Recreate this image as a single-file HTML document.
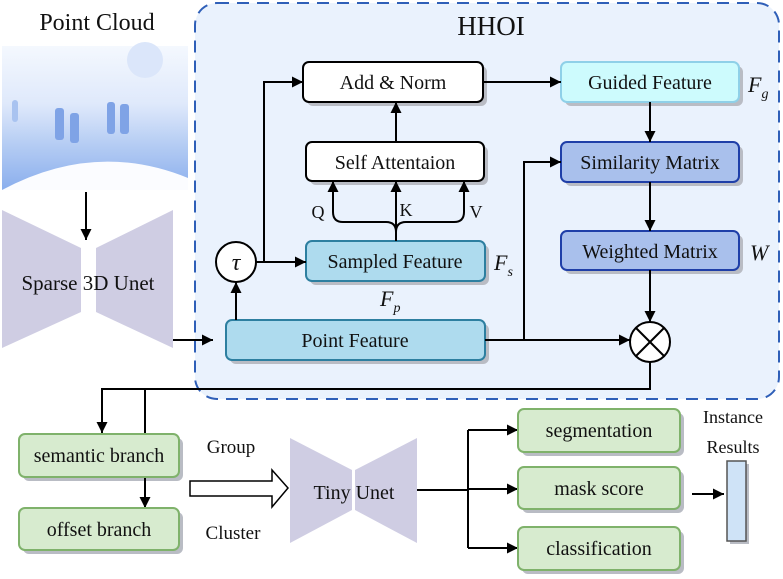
<!DOCTYPE html>
<html><head><meta charset="utf-8"><style>
html,body{margin:0;padding:0;background:#fff;}
svg{display:block;}
svg text{font-family:"Liberation Serif","DejaVu Serif",serif;fill:#111;}
</style></head><body>
<svg width="783" height="579" viewBox="0 0 783 579" xmlns="http://www.w3.org/2000/svg" font-family="Liberation Serif, DejaVu Serif, serif">
<defs>
<marker id="a" viewBox="0 0 10 10" refX="10" refY="5" markerWidth="13" markerHeight="11" markerUnits="userSpaceOnUse" orient="auto"><path d="M0,0 L10,5 L0,10 z" fill="#000"/></marker>
<linearGradient id="pc" x1="0" y1="0" x2="0" y2="1">
<stop offset="0" stop-color="#f4f8fe"/><stop offset="0.4" stop-color="#dfe9fb"/><stop offset="0.7" stop-color="#b3cbf3"/><stop offset="1" stop-color="#8aaeed"/></linearGradient>
</defs>
<rect x="195" y="3" width="584" height="396" rx="22" fill="#eaf2fd" stroke="#2f5fb8" stroke-width="2" stroke-dasharray="12,8"/>
<text x="491" y="35" font-size="27" text-anchor="middle">HHOI</text>
<text x="97" y="30" font-size="24" text-anchor="middle">Point Cloud</text>
<rect x="2" y="46" width="186" height="144" fill="url(#pc)"/>
<path d="M2,190 Q95,140 188,178 L188,190 Z" fill="#fbfcff"/>
<g fill="#7fa3e6">
<rect x="55" y="108" width="9" height="32" rx="3"/><rect x="70" y="113" width="9" height="30" rx="3"/><rect x="107" y="102" width="8" height="32" rx="3"/><rect x="120" y="104" width="9" height="30" rx="3"/><rect x="12" y="100" width="6" height="22" rx="3" fill="#a9c3f0"/>
<circle cx="145" cy="60" r="18" fill="#dbe6fa"/>
</g>
<polygon points="2,210 81,248 81,312 2,348" fill="#cfcde3"/>
<polygon points="96,248 173,210 173,348 96,312" fill="#cfcde3"/>
<text x="88" y="290" font-size="21" text-anchor="middle">Sparse 3D Unet</text>
<line x1="86" y1="192" x2="86" y2="240" stroke="#000" stroke-width="2" marker-end="url(#a)"/>
<line x1="173" y1="340" x2="213" y2="340" stroke="#000" stroke-width="2" marker-end="url(#a)"/>
<g fill="#b9bcc4">
<rect x="307" y="66" width="180" height="40" rx="6"/><rect x="310" y="146" width="178" height="39" rx="6"/><rect x="310" y="245" width="179" height="40" rx="6"/><rect x="230" y="324" width="259" height="40" rx="6"/><rect x="565" y="66" width="178" height="40" rx="6"/><rect x="565" y="146" width="178" height="40" rx="6"/><rect x="565" y="235" width="178" height="39" rx="6"/>
<rect x="23" y="438" width="160" height="43" rx="6"/><rect x="23" y="512" width="160" height="42" rx="6"/><rect x="522" y="413" width="162" height="43" rx="6"/><rect x="522" y="471" width="162" height="42" rx="6"/><rect x="522" y="531" width="162" height="43" rx="6"/><rect x="730" y="464" width="19" height="80"/>
</g>
<rect x="303" y="62" width="180" height="40" rx="6" fill="#fff" stroke="#000" stroke-width="2"/>
<text x="393" y="89" font-size="20" text-anchor="middle">Add &amp; Norm</text>
<rect x="306" y="142" width="178" height="39" rx="6" fill="#fff" stroke="#000" stroke-width="2"/>
<text x="395" y="169" font-size="20" text-anchor="middle">Self Attentaion</text>
<rect x="306" y="241" width="179" height="40" rx="6" fill="#aedbee" stroke="#2d7fa0" stroke-width="2"/>
<text x="395" y="268" font-size="20" text-anchor="middle">Sampled Feature</text>
<rect x="226" y="320" width="259" height="40" rx="6" fill="#aedbee" stroke="#2d7fa0" stroke-width="2"/>
<text x="355" y="347" font-size="20" text-anchor="middle">Point Feature</text>
<rect x="561" y="62" width="178" height="40" rx="6" fill="#cdfbfd" stroke="#8fd0e8" stroke-width="2"/>
<text x="650" y="89" font-size="20" text-anchor="middle">Guided Feature</text>
<rect x="561" y="142" width="178" height="40" rx="6" fill="#a9c0ec" stroke="#1f3fa8" stroke-width="2"/>
<text x="650" y="169" font-size="20" text-anchor="middle">Similarity Matrix</text>
<rect x="561" y="231" width="178" height="39" rx="6" fill="#a9c0ec" stroke="#1f3fa8" stroke-width="2"/>
<text x="650" y="258" font-size="20" text-anchor="middle">Weighted Matrix</text>
<text x="748" y="92" font-size="22" font-style="italic">F<tspan font-size="14" dy="6">g</tspan></text>
<text x="494" y="270" font-size="22" font-style="italic">F<tspan font-size="14" dy="6">s</tspan></text>
<text x="380" y="306" font-size="22" font-style="italic">F<tspan font-size="14" dy="6">p</tspan></text>
<text x="750" y="260" font-size="22" font-style="italic">W</text>
<text x="318" y="218" font-size="18" text-anchor="middle">Q</text>
<text x="406" y="216" font-size="18" text-anchor="middle">K</text>
<text x="476" y="218" font-size="18" text-anchor="middle">V</text>
<circle cx="236" cy="262" r="20" fill="#fff" stroke="#000" stroke-width="2"/>
<text x="236" y="270" font-size="24" font-style="italic" text-anchor="middle">τ</text>
<circle cx="650" cy="342" r="20" fill="#fff" stroke="#000" stroke-width="2"/>
<line x1="636" y1="328" x2="664" y2="356" stroke="#000" stroke-width="2"/><line x1="664" y1="328" x2="636" y2="356" stroke="#000" stroke-width="2"/>
<g stroke="#000" stroke-width="2" fill="none">
<line x1="236" y1="320" x2="236" y2="282" marker-end="url(#a)"/>
<line x1="256" y1="262" x2="306" y2="262" marker-end="url(#a)"/>
<polyline points="264,262 264,82 303,82" marker-end="url(#a)"/>
<line x1="396" y1="241" x2="396" y2="181" marker-end="url(#a)"/>
<path d="M396,232 Q396,222 386,222 L343,222 Q333,222 333,212 L333,181" marker-end="url(#a)"/>
<path d="M396,232 Q396,222 406,222 L454,222 Q464,222 464,212 L464,181" marker-end="url(#a)"/>
<line x1="396" y1="142" x2="396" y2="102" marker-end="url(#a)"/>
<line x1="483" y1="82" x2="561" y2="82" marker-end="url(#a)"/>
<line x1="650" y1="102" x2="650" y2="142" marker-end="url(#a)"/>
<line x1="650" y1="182" x2="650" y2="231" marker-end="url(#a)"/>
<line x1="650" y1="270" x2="650" y2="322" marker-end="url(#a)"/>
<line x1="485" y1="340" x2="630" y2="340" marker-end="url(#a)"/>
<polyline points="524,340 524,162 561,162" marker-end="url(#a)"/>
<polyline points="650,362 650,389 102,389 102,433" marker-end="url(#a)"/>
<line x1="145" y1="389" x2="145" y2="434"/>
<line x1="145" y1="477" x2="145" y2="508" marker-end="url(#a)"/>
<line x1="417" y1="490" x2="468" y2="490"/>
<line x1="468" y1="430" x2="468" y2="548"/>
<line x1="468" y1="430" x2="518" y2="430" marker-end="url(#a)"/>
<line x1="468" y1="489" x2="518" y2="489" marker-end="url(#a)"/>
<line x1="468" y1="548" x2="518" y2="548" marker-end="url(#a)"/>
<line x1="692" y1="494" x2="724" y2="494" marker-end="url(#a)"/>
</g>
<rect x="19" y="434" width="160" height="43" rx="6" fill="#d7ebcf" stroke="#7fb26b" stroke-width="2"/>
<text x="99" y="462" font-size="20" text-anchor="middle">semantic branch</text>
<rect x="19" y="508" width="160" height="42" rx="6" fill="#d7ebcf" stroke="#7fb26b" stroke-width="2"/>
<text x="99" y="536" font-size="20" text-anchor="middle">offset branch</text>
<text x="231" y="453" font-size="19" text-anchor="middle">Group</text>
<text x="233" y="539" font-size="19" text-anchor="middle">Cluster</text>
<polygon points="190,481 272,481 272,470 288,488 272,507 272,496 190,496" fill="#fff" stroke="#000" stroke-width="1.5"/>
<polygon points="290,438 352,470 352,510 290,543" fill="#cfcde3"/>
<polygon points="355,470 417,438 417,543 355,510" fill="#cfcde3"/>
<text x="354" y="499" font-size="20" text-anchor="middle">Tiny Unet</text>
<rect x="518" y="409" width="162" height="43" rx="6" fill="#d7ebcf" stroke="#7fb26b" stroke-width="2"/>
<text x="599" y="437" font-size="20" text-anchor="middle">segmentation</text>
<rect x="518" y="467" width="162" height="42" rx="6" fill="#d7ebcf" stroke="#7fb26b" stroke-width="2"/>
<text x="599" y="495" font-size="20" text-anchor="middle">mask score</text>
<rect x="518" y="527" width="162" height="43" rx="6" fill="#d7ebcf" stroke="#7fb26b" stroke-width="2"/>
<text x="599" y="555" font-size="20" text-anchor="middle">classification</text>
<text x="733" y="423" font-size="18" text-anchor="middle">Instance</text>
<text x="733" y="453" font-size="18" text-anchor="middle">Results</text>
<rect x="727" y="461" width="19" height="80" fill="#cfe3f7" stroke="#555" stroke-width="1.5"/>
</svg>
</body></html>
